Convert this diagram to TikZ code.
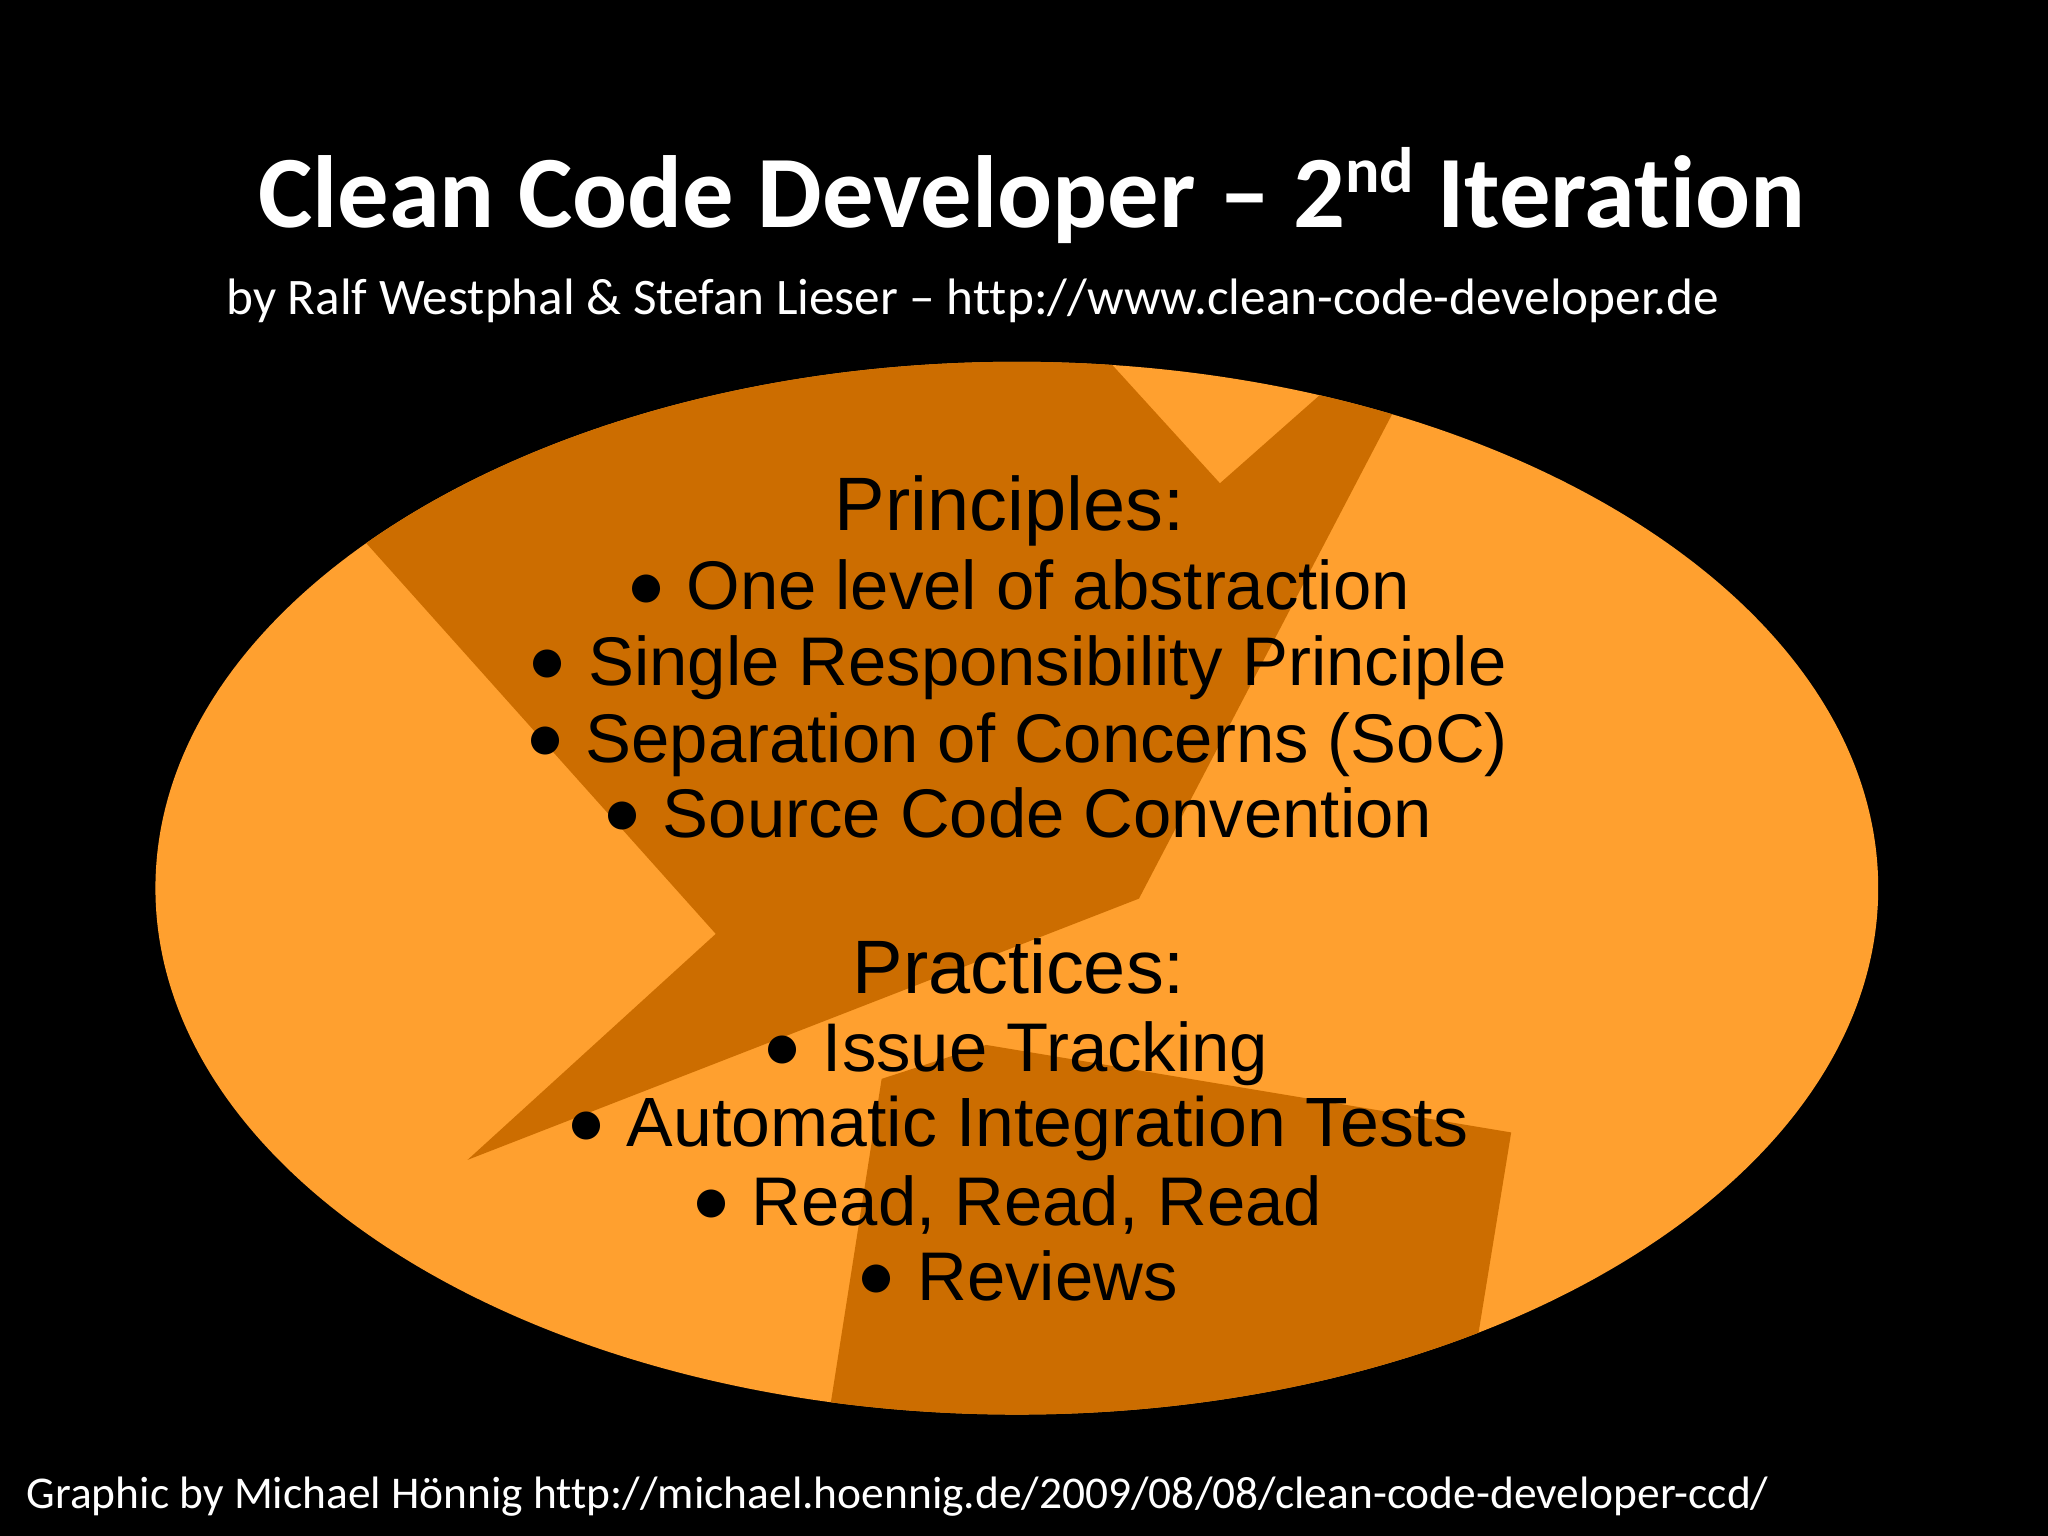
\documentclass[tikz,border=0pt]{standalone}
\usepackage{fontspec}
\setmainfont[Ligatures=CommonOff]{Carlito}
\newfontfamily\inkfont{Liberation Sans}
\newfontfamily\dotfont{DejaVu Sans}
\usetikzlibrary{calc}
\definecolor{lightorange}{RGB}{255,160,47}
\definecolor{darkorange}{RGB}{204,109,0}
\newcommand{\inkdot}{\makebox[23.3pt][l]{\hspace{-1.3pt}\smash{\raisebox{5.1pt}{\dotfont\fontsize{16}{16}\selectfont ●}}}}
\tikzset{
  headtext/.style={text=black,font=\inkfont\fontsize{33}{36}\selectfont,inner sep=0pt,anchor=base},
  itemtext/.style={text=black,font=\inkfont\fontsize{30}{36}\selectfont,inner sep=0pt,anchor=base},
  slidetext/.style={text=white,inner sep=0pt,anchor=base west},
}
\begin{document}
\begin{tikzpicture}[x=0.02cm,y=-0.02cm]

\fill[black] (0,0) rectangle (1568,1176);
\useasboundingbox (0,0) rectangle (1568,1176);

\node[text=white,font=\bfseries\fontsize{44.7}{50}\selectfont,inner sep=0pt,anchor=base] (title) at (790,174)
  {Clean Code Developer -- 2\raisebox{15pt}{\fontsize{28}{28}\selectfont nd} Iteration};
\node[slidetext,font=\fontsize{22.33}{28}\selectfont] (byline) at (173,241) {by Ralf Westphal \& Stefan Lieser -- http://www.clean-code-developer.de};
\node[slidetext,font=\fontsize{19.8}{28}\selectfont] (credit) at (20,1155) {Graphic by Michael Hönnig http://michael.hoennig.de/2009/08/08/clean-code-developer-ccd/};

\coordinate (c) at (778.5,680);

\fill[lightorange] (c) ellipse (659.5 and 403);

\begin{scope}
\clip (c) ellipse (659.5 and 403);
\fill[darkorange] (260,393) -- (548,715) -- (358,888) -- (872,688) -- (1080,290)
  -- (1011,302) -- (934,370) -- (843,270) -- (600,240) -- (300,350) --cycle;
\fill[darkorange] (675,826) -- (755,800) -- (1157,867) -- (1119,1100) -- (632,1100) --cycle;
\end{scope}

\node[headtext] (p0) at (773,406) {Principles:};
\node[itemtext] (p1) at (782,467) {\inkdot One level of abstraction};
\node[itemtext] (p2) at (781.5,524.5) {\inkdot Single Responsibility Principle};
\node[itemtext] (p3) at (781,583.5) {\inkdot Separation of Concerns (SoC)};
\node[itemtext] (p4) at (781.5,641) {\inkdot Source Code Convention};
\node[headtext] (q0) at (780,760.5) {Practices:};
\node[itemtext] (q1) at (780,820.5) {\inkdot Issue Tracking};
\node[itemtext,font=\inkfont\fontsize{30.4}{36}\selectfont] (q2) at (781.5,878) {\inkdot Automatic Integration Tests};
\node[itemtext] (q3) at (773.5,938) {\inkdot Read, Read, Read};
\node[itemtext] (q4) at (781.5,995.5) {\inkdot Reviews};

\end{tikzpicture}
\end{document}
